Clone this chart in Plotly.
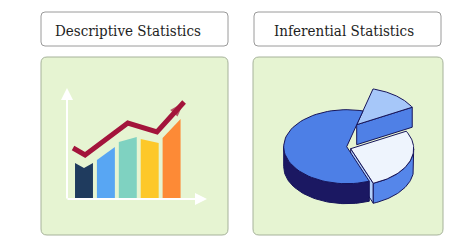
import numpy as np
import plotly.graph_objects as go

# ---------------- data ----------------
titles = ["Descriptive Statistics", "Inferential Statistics"]

bar_cats = [0, 1, 2, 3, 4]
bar_left = [35, 38, 56, 59, 60]      # height at bar's left edge
bar_right = [35, 51, 61, 55, 79]     # height at bar's right edge
bar_mid = [30, None, None, None, None]  # notch for first bar
bar_colors = ["#1f3b5e", "#58a6f3", "#7fd2c1", "#fdc829", "#fd8a36"]

trend_x = [-0.5, 0.05, 2.0, 3.33, 4.57]
trend_y = [50, 43, 75, 66, 96]

pie_labels = ["Main", "Part B", "Part C"]
pie_values = [60, 27, 13]

W, H = 474, 248

fig = go.Figure()

# ---------- background boxes (pixel axis) ----------
def rrect(x0, y0, x1, y1, r):
    return (f"M {x0+r},{y0} L {x1-r},{y0} Q {x1},{y0} {x1},{y0+r} "
            f"L {x1},{y1-r} Q {x1},{y1} {x1-r},{y1} L {x0+r},{y1} "
            f"Q {x0},{y1} {x0},{y1-r} L {x0},{y0+r} Q {x0},{y0} {x0+r},{y0} Z")

shapes = []
for (x0, x1) in [(41, 228), (254, 441)]:
    shapes.append(dict(type="path", path=rrect(x0, 12, x1, 46, 4), xref="x", yref="y",
                       line=dict(color="#9a9a9a", width=1), fillcolor="white", layer="below"))
for (x0, x1) in [(41, 228), (253, 443)]:
    shapes.append(dict(type="path", path=rrect(x0, 57, x1, 235, 6), xref="x", yref="y",
                       line=dict(color="#a6b29a", width=1), fillcolor="#e6f4d2", layer="below"))

annotations = []
for t, cx in zip(titles, [128, 344]):
    annotations.append(dict(x=cx, y=30.5, xref="x", yref="y", text=t, showarrow=False,
                            font=dict(family="DejaVu Serif Condensed, DejaVu Serif", size=15,
                                      color="#1e1e1e")))

# invisible trace for pixel axis
fig.add_trace(go.Scatter(x=[0, W], y=[0, H], mode="markers", marker=dict(opacity=0),
                         hoverinfo="skip", showlegend=False, xaxis="x", yaxis="y"))

# ---------- bar chart (xaxis2/yaxis2) ----------
annotations.append(dict(x=67, y=88, ax=67, ay=200, xref="x", yref="y", axref="x", ayref="y",
                        text="", showarrow=True, arrowhead=2, arrowsize=1.2, arrowwidth=2,
                        arrowcolor="white"))
annotations.append(dict(x=207, y=199, ax=66, ay=199, xref="x", yref="y", axref="x", ayref="y",
                        text="", showarrow=True, arrowhead=2, arrowsize=1.2, arrowwidth=2,
                        arrowcolor="white"))

hw = 0.41
for i, c in enumerate(bar_cats):
    xs = [c - hw, c - hw]
    ys = [0, bar_left[i]]
    if bar_mid[i] is not None:
        xs.append(c); ys.append(bar_mid[i])
    xs += [c + hw, c + hw, c - hw]
    ys += [bar_right[i], 0, 0]
    fig.add_trace(go.Scatter(x=xs, y=ys, fill="toself", fillcolor=bar_colors[i], mode="lines",
                             line=dict(width=0, color=bar_colors[i]), showlegend=False,
                             hoverinfo="skip", xaxis="x2", yaxis="y2"))

fig.add_trace(go.Scatter(x=trend_x, y=trend_y, mode="lines+markers",
                         line=dict(color="#a3143b", width=5),
                         marker=dict(symbol="arrow", angleref="previous", size=[0, 0, 0, 0, 16],
                                     color="#a3143b", line=dict(width=0)),
                         showlegend=False, hoverinfo="skip", xaxis="x2", yaxis="y2"))

# ---------- 3D pie (xaxis3/yaxis3, units = px) ----------
rx, ry, depth = 63.0, 37.0, 20.0
tot = sum(pie_values)
spans = [v / tot * 360 for v in pie_values]
a_main = (75, 75 + spans[0])
a_c = (75 - spans[2], 75)
a_b = (75 - spans[2] - spans[1], 75 - spans[2])
off_main = (0, 0)
off_b = (4, -2)
off_c = (10, 22)

def arc(t1, t2, o, z=0, n=60):
    t = np.radians(np.linspace(t1, t2, n))
    return list(o[0] + rx * np.cos(t)), list(o[1] + ry * np.sin(t) - z)

def poly(xs, ys, fill, lw=1):
    fig.add_trace(go.Scatter(x=xs, y=ys, fill="toself", fillcolor=fill, mode="lines",
                             line=dict(color="#16145a", width=lw), showlegend=False,
                             hoverinfo="skip", xaxis="x3", yaxis="y3"))

def top(t1, t2, o, fill):
    ax_, ay_ = arc(t1, t2, o)
    poly([o[0]] + ax_ + [o[0]], [o[1]] + ay_ + [o[1]], fill)

def side(t1, t2, o, fill):
    ax_, ay_ = arc(t1, t2, o)
    bx, by = arc(t2, t1, o, z=depth)
    poly(ax_ + bx + [ax_[0]], ay_ + by + [ay_[0]], fill)

def cut(t, o, fill):
    ex = o[0] + rx * np.cos(np.radians(t)); ey = o[1] + ry * np.sin(np.radians(t))
    poly([o[0], ex, ex, o[0], o[0]], [o[1], ey, ey - depth, o[1] - depth, o[1]], fill)

cut(a_c[0], off_c, "#4f80e6")
top(a_c[0], a_c[1], off_c, "#a6c7f9")
cut(a_b[0], off_b, "#b5d1fa")
side(180, a_main[1], off_main, "#1b1862")
top(a_main[0], a_main[1], off_main, "#4d7fe6")
side(a_b[0], 0, off_b, "#5586ea")
top(a_b[0], a_b[1], off_b, "#eef4fd")

# ---------- layout ----------
def px_x(p): return p / W
def px_y(p): return 1 - p / H

fig.update_layout(
    width=W, height=H, margin=dict(l=0, r=0, t=0, b=0),
    paper_bgcolor="white", plot_bgcolor="rgba(0,0,0,0)",
    shapes=shapes, annotations=annotations, showlegend=False,
    xaxis=dict(range=[0, W], domain=[0, 1], visible=False, fixedrange=True),
    yaxis=dict(range=[H, 0], domain=[0, 1], visible=False, fixedrange=True),
    xaxis2=dict(range=[-0.776, 5.525], domain=[px_x(67), px_x(205)], visible=False, anchor="y2"),
    yaxis2=dict(range=[0, 100], domain=[px_y(198), px_y(98)], visible=False, anchor="x2"),
    xaxis3=dict(range=[253 - 346.7, 443 - 346.7], domain=[px_x(253), px_x(443)], visible=False, anchor="y3"),
    yaxis3=dict(range=[146.7 - 235, 146.7 - 57], domain=[px_y(235), px_y(57)], visible=False, anchor="x3"),
)

fig.write_html("out.html")
